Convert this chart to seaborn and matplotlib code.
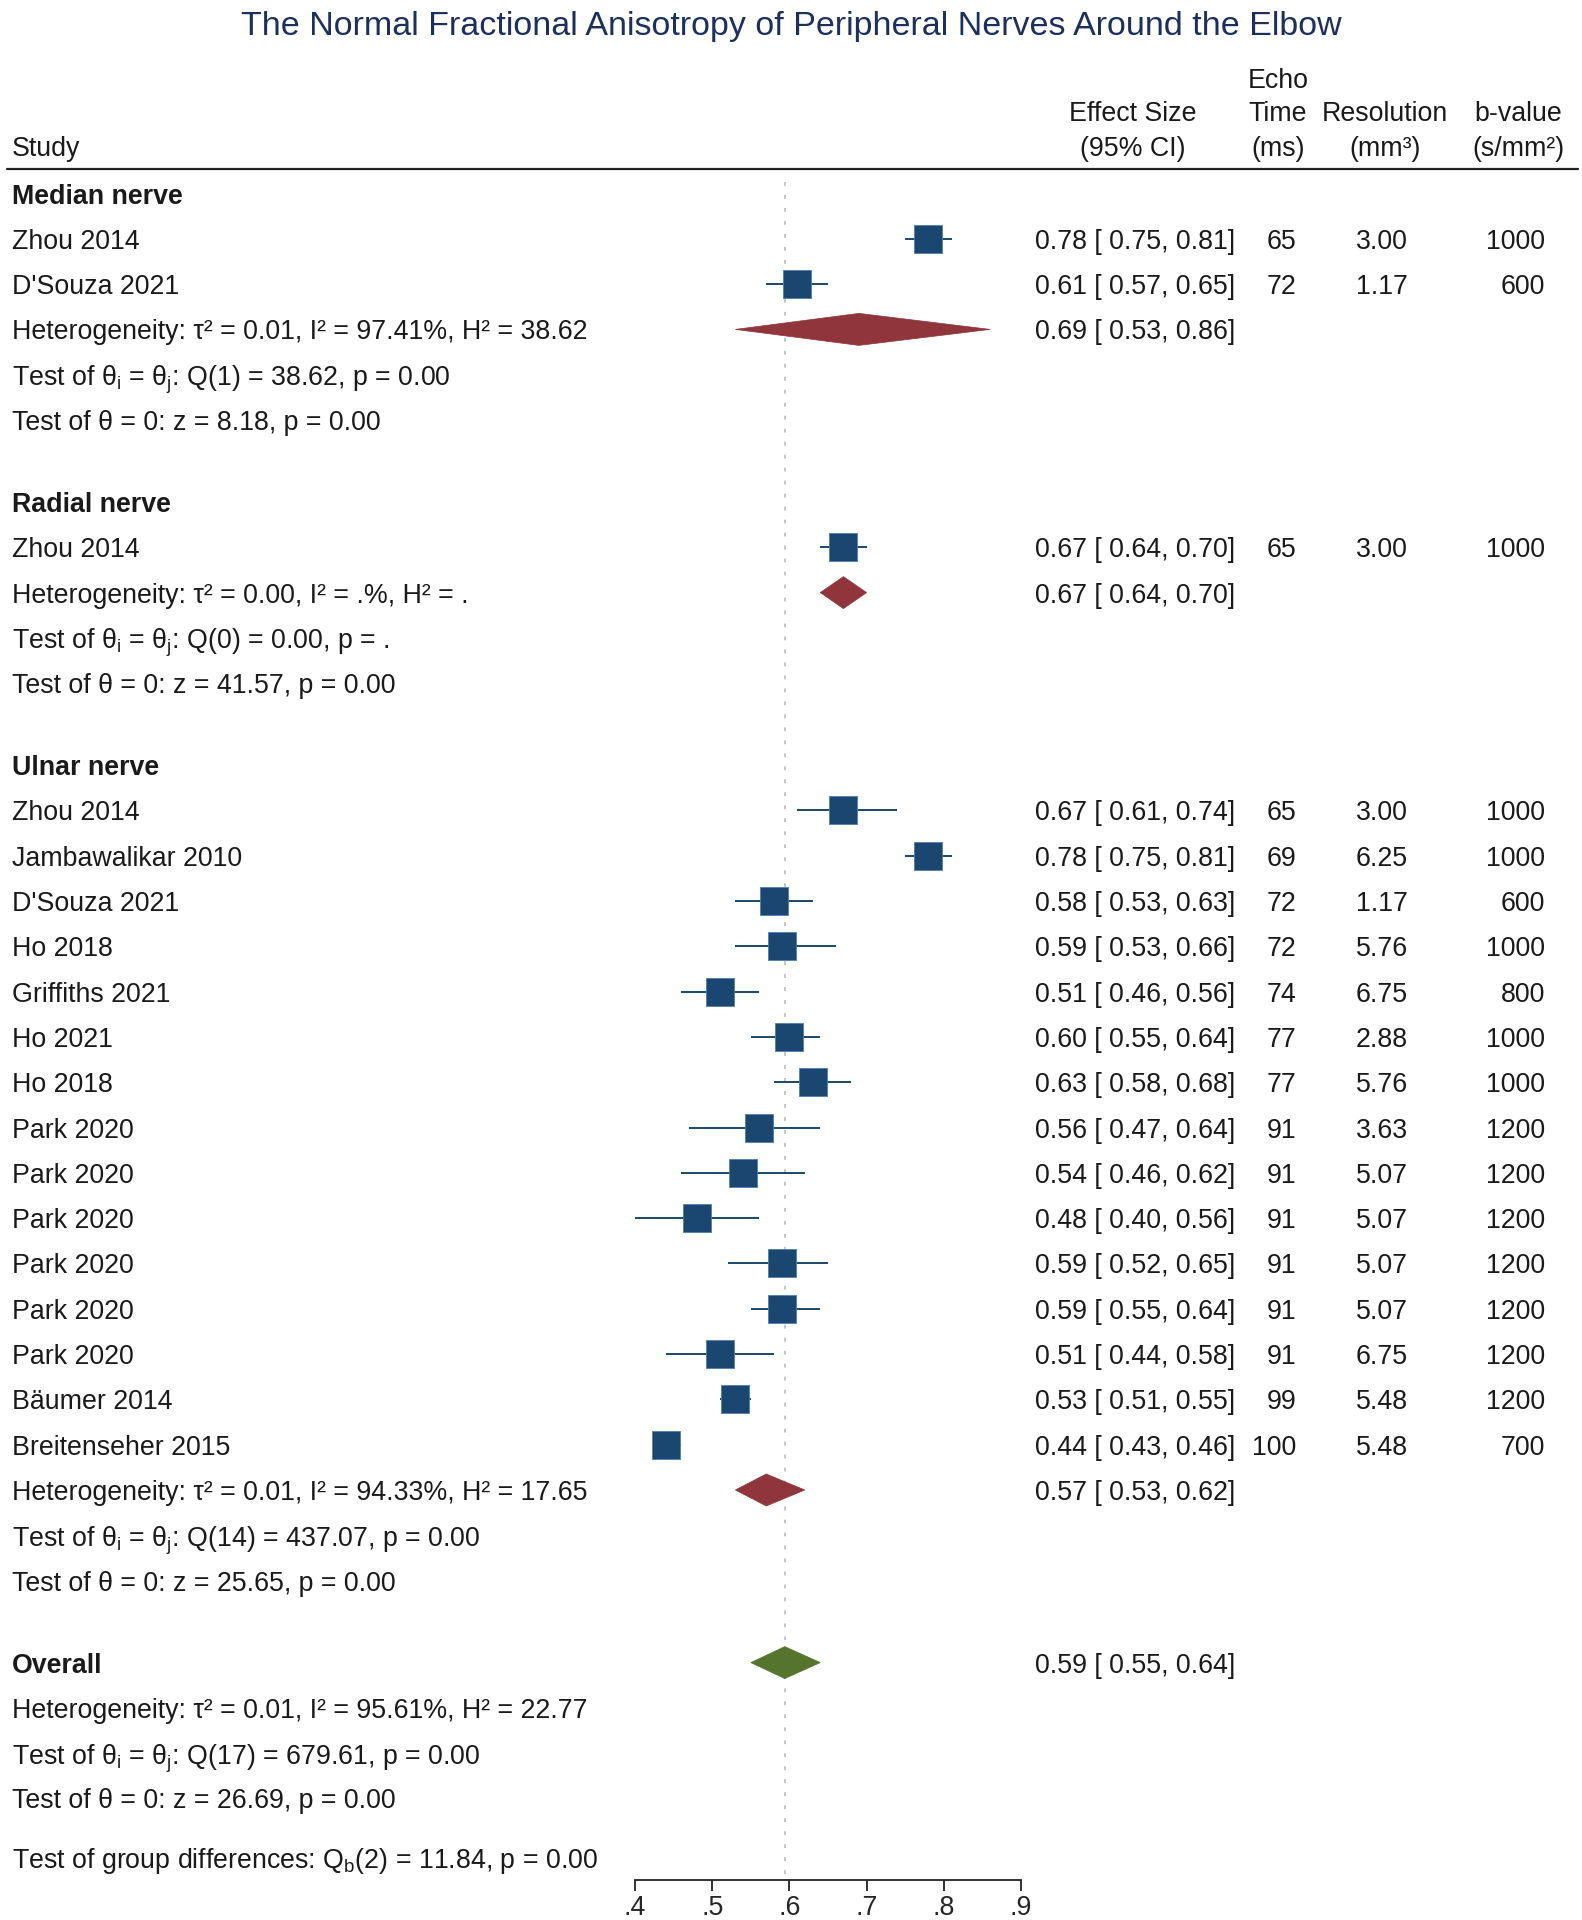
import matplotlib
matplotlib.use("Agg")
import matplotlib.pyplot as plt
import matplotlib.transforms as mtransforms
from matplotlib.lines import Line2D
from matplotlib.patches import Polygon
import seaborn as sns
import pandas as pd

# ---- data ----
groups = ["Median nerve", "Radial nerve", "Ulnar nerve"]

study = ["Zhou 2014", "D'Souza 2021",
         "Zhou 2014",
         "Zhou 2014", "Jambawalikar 2010", "D'Souza 2021", "Ho 2018", "Griffiths 2021",
         "Ho 2021", "Ho 2018", "Park 2020", "Park 2020", "Park 2020", "Park 2020",
         "Park 2020", "Park 2020", "Bäumer 2014", "Breitenseher 2015"]
group = ["Median nerve"] * 2 + ["Radial nerve"] + ["Ulnar nerve"] * 15
es = [0.78, 0.61, 0.67, 0.67, 0.78, 0.58, 0.59, 0.51, 0.60, 0.63, 0.56, 0.54, 0.48,
      0.59, 0.59, 0.51, 0.53, 0.44]
lo = [0.75, 0.57, 0.64, 0.61, 0.75, 0.53, 0.53, 0.46, 0.55, 0.58, 0.47, 0.46, 0.40,
      0.52, 0.55, 0.44, 0.51, 0.43]
hi = [0.81, 0.65, 0.70, 0.74, 0.81, 0.63, 0.66, 0.56, 0.64, 0.68, 0.64, 0.62, 0.56,
      0.65, 0.64, 0.58, 0.55, 0.46]
echo_time = [65, 72, 65, 65, 69, 72, 72, 74, 77, 77, 91, 91, 91, 91, 91, 91, 99, 100]
resolution = [3.00, 1.17, 3.00, 3.00, 6.25, 1.17, 5.76, 6.75, 2.88, 5.76, 3.63, 5.07,
              5.07, 5.07, 5.07, 6.75, 5.48, 5.48]
b_value = [1000, 600, 1000, 1000, 1000, 600, 1000, 800, 1000, 1000, 1200, 1200, 1200,
           1200, 1200, 1200, 1200, 700]

grp_es = [0.69, 0.67, 0.57]
grp_lo = [0.53, 0.64, 0.53]
grp_hi = [0.86, 0.70, 0.62]
grp_het = ["τ² = 0.01, I² = 97.41%, H² = 38.62",
           "τ² = 0.00, I² = .%, H² = .",
           "τ² = 0.01, I² = 94.33%, H² = 17.65"]
grp_q = ["Q(1) = 38.62, p = 0.00", "Q(0) = 0.00, p = .", "Q(14) = 437.07, p = 0.00"]
grp_z = ["z = 8.18, p = 0.00", "z = 41.57, p = 0.00", "z = 25.65, p = 0.00"]

overall_es, overall_lo, overall_hi = 0.594, 0.55, 0.64
overall_het = "τ² = 0.01, I² = 95.61%, H² = 22.77"
overall_q = "Q(17) = 679.61, p = 0.00"
overall_z = "z = 26.69, p = 0.00"
group_diff = "Q$_\\mathrm{b}$(2) = 11.84, p = 0.00"

xticks = [0.4, 0.5, 0.6, 0.7, 0.8, 0.9]
xtick_labels = [".4", ".5", ".6", ".7", ".8", ".9"]

NAVY = "#1a476f"
MAROON = "#90353b"
GREEN = "#55752f"

sns.set_style("white")
plt.rcParams["font.family"] = ["Liberation Sans", "DejaVu Sans"]
plt.rcParams["mathtext.fontset"] = "custom"
plt.rcParams["mathtext.rm"] = "Liberation Sans"
plt.rcParams["mathtext.it"] = "Liberation Sans:italic"
FS = 19.3

W, H = 1582, 1920
ROW0, ROWPX = 193.5, 45.3   # pixel centre of first row, row spacing


def row_of(px):
    return (px - ROW0) / ROWPX


# ---- lay out rows ----
df = pd.DataFrame({"study": study, "group": group, "es": es, "lo": lo, "hi": hi,
                   "echo": echo_time, "res": resolution, "b": b_value})
rows = []   # (y, kind, payload)
y = 0.0
study_rows = []
for gi, g in enumerate(groups):
    rows.append((y, "header", g)); y += 1
    for i in df.index[df.group == g]:
        study_rows.append(y)
        rows.append((y, "study", i)); y += 1
    rows.append((y, "het", gi)); y += 1
    rows.append((y, "q", gi)); y += 1
    rows.append((y, "z", gi)); y += 1
    y += 0.81
rows.append((y, "overall", None)); y += 1
rows.append((y, "ohet", None)); y += 1
rows.append((y, "oq", None)); y += 1
rows.append((y, "oz", None)); y += 1.3
rows.append((y, "gdiff", None))
df["row"] = study_rows

fig = plt.figure(figsize=(W / 100, H / 100), dpi=100)
ax = fig.add_axes([635 / W, 1 - 1880 / H, 386 / W, (1880 - 169) / H])
ax.set_xlim(0.4, 0.9)
ax.set_ylim(row_of(1880), row_of(169))

# reference line at overall estimate
ax.vlines(overall_es, row_of(182), row_of(1880), colors="#b5b5b5", lw=1.1,
          linestyles=(0, (2.5, 6)), zorder=1)

# study CIs and squares
ax.hlines(df["row"], df["lo"], df["hi"], colors=NAVY, lw=1.4, zorder=2, clip_on=False)
sns.scatterplot(data=df, x="es", y="row", marker="s", s=19.5 ** 2, color=NAVY,
                edgecolor="#4f7fae", linewidth=0.6, ax=ax, zorder=3, clip_on=False,
                legend=False)

DH = 16 / ROWPX


def diamond(c, l, h, yy, col):
    ax.add_patch(Polygon([(l, yy), (c, yy - DH), (h, yy), (c, yy + DH)], closed=True,
                         facecolor=col, edgecolor=col, lw=0.5, zorder=3, clip_on=False))


tr = mtransforms.blended_transform_factory(fig.transFigure, ax.transData)
X_LAB, X_ES, X_ECHO, X_RES, X_B = 12 / W, 1235 / W, 1296 / W, 1408 / W, 1545 / W
theta_q = "Test of θ$_\\mathrm{i}$ = θ$_\\mathrm{j}$: "


def txt(x, yy, s, ha="left", **kw):
    ax.text(x, yy, s, transform=tr, ha=ha, va="center_baseline", fontsize=FS,
            color="#1a1a1a", clip_on=False, **kw)


def es_text(e, l, h):
    return f"{e:.2f} [ {l:.2f}, {h:.2f}]"


for yy, kind, p in rows:
    if kind == "header":
        txt(X_LAB, yy, p, fontweight="bold")
    elif kind == "study":
        r = df.loc[p]
        txt(X_LAB, yy, r["study"])
        txt(X_ES, yy, es_text(r["es"], r["lo"], r["hi"]), ha="right")
        txt(X_ECHO, yy, f"{r['echo']}", ha="right")
        txt(X_RES, yy, f"{r['res']:.2f}", ha="right")
        txt(X_B, yy, f"{r['b']}", ha="right")
    elif kind == "het":
        txt(X_LAB, yy, "Heterogeneity: " + grp_het[p])
        diamond(grp_es[p], grp_lo[p], grp_hi[p], yy, MAROON)
        txt(X_ES, yy, es_text(grp_es[p], grp_lo[p], grp_hi[p]), ha="right")
    elif kind == "q":
        txt(X_LAB, yy, theta_q + grp_q[p])
    elif kind == "z":
        txt(X_LAB, yy, "Test of θ = 0: " + grp_z[p])
    elif kind == "overall":
        txt(X_LAB, yy, "Overall", fontweight="bold")
        diamond(overall_es, overall_lo, overall_hi, yy, GREEN)
        txt(X_ES, yy, es_text(overall_es, overall_lo, overall_hi), ha="right")
    elif kind == "ohet":
        txt(X_LAB, yy, "Heterogeneity: " + overall_het)
    elif kind == "oq":
        txt(X_LAB, yy, theta_q + overall_q)
    elif kind == "oz":
        txt(X_LAB, yy, "Test of θ = 0: " + overall_z)
    elif kind == "gdiff":
        txt(X_LAB, yy, "Test of group differences: " + group_diff)

# column headers
txt(X_LAB, row_of(146), "Study")
for xc, lines in [(1133, ["Effect Size", "(95% CI)"]),
                  (1278, ["Echo", "Time", "(ms)"]),
                  (1385, ["Resolution", "(mm³)"]),
                  (1518, ["b-value", "(s/mm²)"])]:
    for k, s in enumerate(reversed(lines)):
        txt(xc / W, row_of([146, 111, 78][k]), s, ha="center")

fig.add_artist(Line2D([7 / W, 1578 / W], [1 - 169 / H] * 2, transform=fig.transFigure,
                      color="#222222", lw=1.6))
fig.text(791 / W, 1 - 27 / H,
         "The Normal Fractional Anisotropy of Peripheral Nerves Around the Elbow",
         ha="center", va="center", fontsize=24.5, color="#1c3060")

# axis styling
for s in ["top", "right", "left"]:
    ax.spines[s].set_visible(False)
ax.spines["bottom"].set_bounds(0.4, 0.9)
ax.spines["bottom"].set_linewidth(1.3)
ax.spines["bottom"].set_color("#222222")
ax.set_xticks(xticks)
ax.set_xticklabels(xtick_labels, fontsize=FS)
ax.tick_params(axis="x", length=8, width=1.3, color="#222222", pad=3, bottom=True)
ax.set_yticks([])
ax.set_xlabel("")
ax.set_ylabel("")

fig.savefig("out.png", dpi=100, facecolor="white")
